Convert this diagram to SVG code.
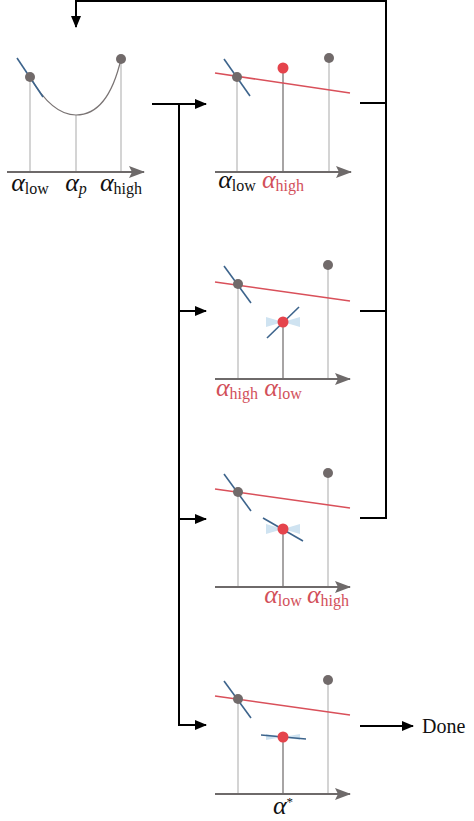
<svg xmlns="http://www.w3.org/2000/svg" width="474" height="821" viewBox="0 0 474 821">
<defs>
<marker id="ah" markerWidth="12" markerHeight="10" refX="11" refY="5" orient="auto" markerUnits="userSpaceOnUse">
<path d="M0,0 L12,5 L0,10 Z" fill="#000"/>
</marker>
<marker id="ax" markerWidth="16" markerHeight="12" refX="15" refY="6" orient="auto" markerUnits="userSpaceOnUse">
<path d="M0,0 L16,6 L0,12 L3,6 Z" fill="#6e6a6a"/>
</marker>
</defs>
<style>
.axis{stroke:#6e6a6a;stroke-width:2;fill:none}
.stem{stroke:#bdbdbd;stroke-width:1.3}
.stemd{stroke:#8a8686;stroke-width:1.5}
.gdot{fill:#716a6a}
.rdot{fill:#e5444c}
.rline{stroke:#d9505a;stroke-width:1.6;fill:none}
.bline{stroke:#3d648c;stroke-width:1.6;fill:none}
.bow{fill:#cfe3f1}
.conn{stroke:#000;stroke-width:2;fill:none}
.lbl{font-family:"Liberation Serif","DejaVu Serif",serif;font-size:16px;fill:#111}
.a{font-family:"Liberation Serif",serif;font-style:italic;font-size:26px}
.ital{font-style:italic}
.red{fill:#d2505a}
.done{font-family:"Liberation Serif","DejaVu Serif",serif;font-size:20px;fill:#111}
</style>

<g id="connectors">
<path class="conn" d="M386,519 V1 H76 V27" marker-end="url(#ah)"/>
<line class="conn" x1="360" y1="103" x2="386" y2="103"/>
<line class="conn" x1="360" y1="311" x2="386" y2="311"/>
<line class="conn" x1="360" y1="518" x2="386" y2="518"/>
<line class="conn" x1="152" y1="104" x2="206" y2="104" marker-end="url(#ah)"/>
<path class="conn" d="M179,104 V725 H206" marker-end="url(#ah)"/>
<line class="conn" x1="179" y1="311" x2="206" y2="311" marker-end="url(#ah)"/>
<line class="conn" x1="179" y1="519" x2="206" y2="519" marker-end="url(#ah)"/>
<line class="conn" x1="360" y1="726" x2="413" y2="726" marker-end="url(#ah)"/>
</g>

<g id="panel1">
<line class="stem" x1="30" y1="77" x2="30" y2="172"/>
<line class="stem" x1="76" y1="115" x2="76" y2="172"/>
<line class="stem" x1="121" y1="59" x2="121" y2="172"/>
<path d="M30,77 Q52,115 76,115 Q108,115 121,59" fill="none" stroke="#7a7474" stroke-width="1.2"/>
<line class="bline" x1="17" y1="58" x2="43" y2="97"/>
<line class="axis" x1="7" y1="172" x2="144" y2="172" marker-end="url(#ax)"/>
<circle class="gdot" cx="30" cy="77" r="5"/>
<circle class="gdot" cx="121" cy="59" r="5"/>
<text class="lbl" x="30" y="191" text-anchor="middle"><tspan class="a">α</tspan><tspan dy="3">low</tspan></text>
<text class="lbl" x="76" y="191" text-anchor="middle"><tspan class="a">α</tspan><tspan class="ital" dy="3">p</tspan></text>
<text class="lbl" x="121" y="191" text-anchor="middle"><tspan class="a">α</tspan><tspan dy="3">high</tspan></text>
</g>

<g id="panel2">
<line class="stem" x1="237" y1="77" x2="237" y2="172"/>
<line class="stemd" x1="283" y1="68" x2="283" y2="172"/>
<line class="stem" x1="329" y1="58" x2="329" y2="172"/>
<line class="rline" x1="215" y1="73" x2="350" y2="93"/>
<line class="bline" x1="224" y1="59" x2="250" y2="96"/>
<line class="axis" x1="215" y1="172" x2="351" y2="172" marker-end="url(#ax)"/>
<circle class="gdot" cx="237" cy="77" r="5"/>
<circle class="rdot" cx="283" cy="68" r="5.5"/>
<circle class="gdot" cx="329" cy="58" r="5"/>
<text class="lbl" x="237" y="188" text-anchor="middle"><tspan class="a">α</tspan><tspan dy="3">low</tspan></text>
<text class="lbl red" x="283" y="188" text-anchor="middle"><tspan class="a">α</tspan><tspan dy="3">high</tspan></text>
</g>

<g id="panel3">
<line class="stem" x1="238" y1="284" x2="238" y2="379"/>
<line class="stemd" x1="283" y1="322" x2="283" y2="379"/>
<line class="stem" x1="328" y1="265" x2="328" y2="379"/>
<line class="rline" x1="215" y1="282" x2="350" y2="301"/>
<line class="bline" x1="224" y1="266" x2="251" y2="303"/>
<polygon class="bow" points="266,317 283,322 266,327"/>
<polygon class="bow" points="300,317 283,322 300,327"/>
<line class="bline" x1="267" y1="338" x2="299" y2="307"/>
<line class="axis" x1="215" y1="379" x2="350" y2="379" marker-end="url(#ax)"/>
<circle class="gdot" cx="238" cy="284" r="5"/>
<circle class="rdot" cx="283" cy="322" r="5.5"/>
<circle class="gdot" cx="328" cy="265" r="5"/>
<text class="lbl red" x="237" y="396" text-anchor="middle"><tspan class="a">α</tspan><tspan dy="3">high</tspan></text>
<text class="lbl red" x="283" y="396" text-anchor="middle"><tspan class="a">α</tspan><tspan dy="3">low</tspan></text>
</g>

<g id="panel4">
<line class="stem" x1="238" y1="492" x2="238" y2="587"/>
<line class="stemd" x1="283" y1="529" x2="283" y2="587"/>
<line class="stem" x1="328" y1="473" x2="328" y2="587"/>
<line class="rline" x1="215" y1="489" x2="350" y2="508"/>
<line class="bline" x1="224" y1="474" x2="251" y2="511"/>
<polygon class="bow" points="266,524 283,529 266,534"/>
<polygon class="bow" points="300,524 283,529 300,534"/>
<line class="bline" x1="263" y1="518" x2="303" y2="541"/>
<line class="axis" x1="215" y1="587" x2="350" y2="587" marker-end="url(#ax)"/>
<circle class="gdot" cx="238" cy="492" r="5"/>
<circle class="rdot" cx="283" cy="529" r="5.5"/>
<circle class="gdot" cx="328" cy="473" r="5"/>
<text class="lbl red" x="283" y="603" text-anchor="middle"><tspan class="a">α</tspan><tspan dy="3">low</tspan></text>
<text class="lbl red" x="328" y="603" text-anchor="middle"><tspan class="a">α</tspan><tspan dy="3">high</tspan></text>
</g>

<g id="panel5">
<line class="stem" x1="238" y1="699" x2="238" y2="794"/>
<line class="stemd" x1="283" y1="737" x2="283" y2="794"/>
<line class="stem" x1="328" y1="680" x2="328" y2="794"/>
<line class="rline" x1="215" y1="696" x2="350" y2="715"/>
<line class="bline" x1="224" y1="681" x2="251" y2="718"/>
<polygon class="bow" points="266,734 283,737 266,740"/>
<polygon class="bow" points="300,734 283,737 300,740"/>
<line class="bline" x1="261" y1="735" x2="306" y2="739"/>
<line class="axis" x1="215" y1="794" x2="350" y2="794" marker-end="url(#ax)"/>
<circle class="gdot" cx="238" cy="699" r="5"/>
<circle class="rdot" cx="283" cy="737" r="5.5"/>
<circle class="gdot" cx="328" cy="680" r="5"/>
<text class="lbl" x="283" y="814" text-anchor="middle"><tspan class="a">α</tspan><tspan font-size="13" dy="-8">*</tspan></text>
</g>

<g id="done">
<text class="done" x="422" y="733">Done</text>
</g>
</svg>
